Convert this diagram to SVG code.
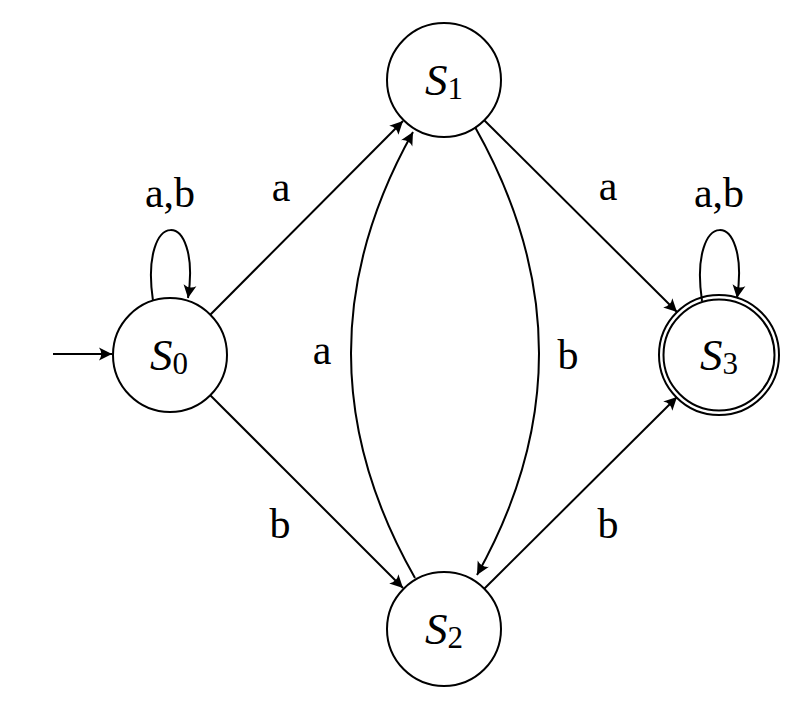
<svg xmlns="http://www.w3.org/2000/svg" width="800" height="707" viewBox="0 0 800 707">
<style>
.st{fill:none;stroke:#000;stroke-width:2}
.lbl{font-family:"Liberation Serif",serif;font-size:42px;fill:#000;text-anchor:middle}
.nm{font-family:"Liberation Serif",serif;font-size:45px;font-style:italic;fill:#000;text-anchor:middle}
.sub{font-style:normal;font-size:31px}
.e{fill:none;stroke:#000;stroke-width:2;marker-end:url(#arr)}
</style>
<defs>
<marker id="arr" markerUnits="userSpaceOnUse" viewBox="-14 -8 16 16" refX="0" refY="0" markerWidth="16" markerHeight="16" orient="auto">
<path d="M0,0 L-13,-6.5 Q-8.5,0 -13,6.5 Z" fill="#000"/>
</marker>
</defs>
<rect width="800" height="707" fill="#fff"/>
<g id="edges">
<line class="e" x1="53" y1="354" x2="112" y2="354"/>
<path class="e" d="M153,301 C139,207 202,207 188,298"/>
<path class="e" d="M702,301 C688,207 751,207 737,298"/>
<line class="e" x1="210" y1="315" x2="403" y2="121"/>
<line class="e" x1="210" y1="395" x2="403" y2="588"/>
<line class="e" x1="484" y1="120" x2="677" y2="312"/>
<line class="e" x1="484" y1="589" x2="677" y2="397"/>
<path class="e" d="M415,578 Q288,355 413,132"/>
<path class="e" d="M475,127 Q602,352 477,575"/>
</g>
<g id="labels">
<text class="lbl" x="170" y="207">a,b</text>
<text class="lbl" x="719" y="207">a,b</text>
<text class="lbl" x="281" y="201">a</text>
<text class="lbl" x="280" y="538">b</text>
<text class="lbl" x="608" y="200">a</text>
<text class="lbl" x="608" y="538">b</text>
<text class="lbl" x="322" y="364">a</text>
<text class="lbl" x="568" y="369">b</text>
</g>
<g id="S0"><circle class="st" cx="170" cy="355" r="57"/><text class="nm" x="169" y="370">S<tspan class="sub" dy="4">0</tspan></text></g>
<g id="S1"><circle class="st" cx="444" cy="80" r="57"/><text class="nm" x="444" y="95">S<tspan class="sub" dy="4">1</tspan></text></g>
<g id="S2"><circle class="st" cx="444" cy="629" r="57"/><text class="nm" x="444" y="644">S<tspan class="sub" dy="4">2</tspan></text></g>
<g id="S3"><circle class="st" cx="719" cy="355" r="60"/><circle class="st" cx="719" cy="355" r="55.5"/><text class="nm" x="719" y="370">S<tspan class="sub" dy="4">3</tspan></text></g>
</svg>
